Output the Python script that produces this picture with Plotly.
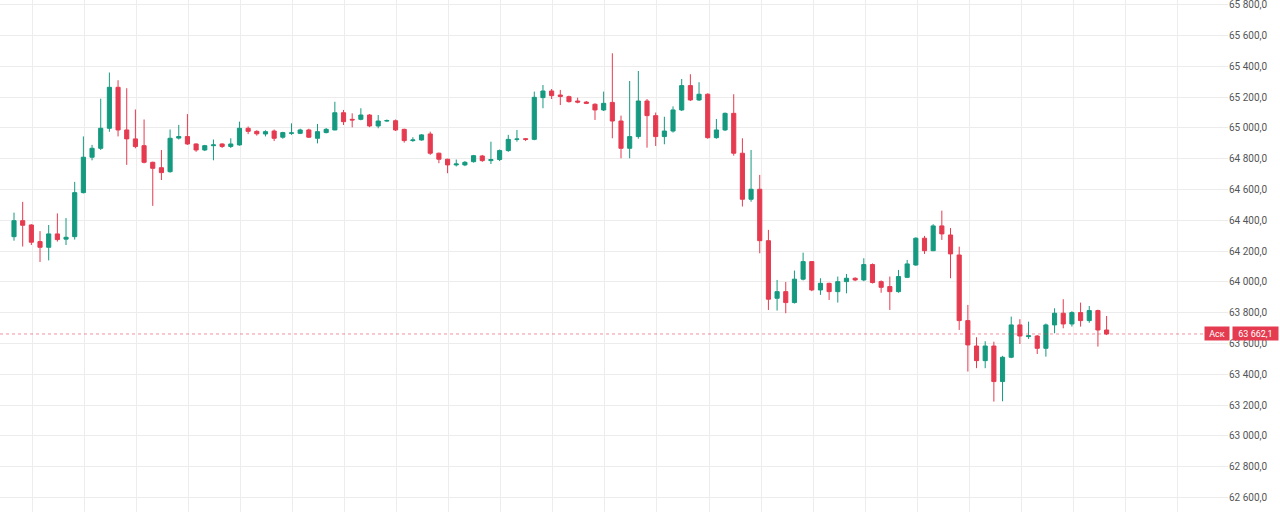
import plotly.graph_objects as go

opens = [64294, 64398, 64370, 64262, 64225, 64312, 64278, 64294, 64580, 64810,
         64868, 64998, 65264, 64987, 64929, 64885, 64777, 64742, 64716, 64934,
         64944, 64896, 64857, 64885, 64896, 64880, 64890, 64998, 64978, 64961,
         64980, 64940, 64965, 64965, 64987, 64933, 64970, 64987, 65099, 65056,
         65056, 65084, 65013, 65045, 65047, 64991, 64918, 64922, 64961, 64836,
         64797, 64760, 64760, 64781, 64818, 64788, 64795, 64853, 64926, 64930,
         64926, 65197, 65240, 65214, 65203, 65175, 65168, 65154, 65117, 65166,
         65045, 64868, 64944, 65175, 65080, 64944, 64980, 65117, 65275, 65182,
         65219, 64937, 64987, 65095, 64836, 64537, 64602, 64268, 63894, 63937,
         63866, 64018, 64132, 63948, 63991, 63937, 64002, 64024, 64013, 64113,
         64002, 63970, 63937, 64030, 64110, 64284, 64203, 64364, 64305, 64175,
         63749, 63584, 63489, 63584, 63353, 63511, 63721, 63645, 63649, 63569,
         63721, 63797, 63727, 63801, 63749, 63814, 63688]
highs = [64450, 64520, 64375, 64330, 64370, 64445, 64415, 64650, 64945, 64890,
         65190, 65360, 65310, 65258, 65120, 65055, 64781, 64857, 64990, 65020,
         65090, 64900, 64890, 64925, 64900, 64933, 65041, 65010, 64985, 64985,
         64990, 64975, 65030, 64995, 64995, 65026, 65000, 65170, 65117, 65095,
         65128, 65090, 65084, 65055, 65055, 64995, 64940, 64960, 64976, 64840,
         64800, 64795, 64785, 64825, 64825, 64911, 64860, 64955, 64987, 64935,
         65236, 65279, 65253, 65247, 65210, 65197, 65175, 65160, 65236, 65485,
         65080, 65305, 65370, 65188, 65100, 65073, 65140, 65318, 65349, 65297,
         65225, 65058, 65100, 65219, 64933, 64857, 64695, 64338, 64013, 64000,
         64074, 64190, 64135, 64024, 63995, 64035, 64052, 64030, 64154, 64120,
         64010, 64035, 64078, 64143, 64290, 64299, 64375, 64463, 64350, 64229,
         63851, 63641, 63615, 63612, 63520, 63775, 63758, 63742, 63655, 63730,
         63829, 63888, 63810, 63866, 63844, 63820, 63779]
lows = [64268, 64230, 64240, 64130, 64140, 64262, 64240, 64275, 64575, 64790,
        64857, 64975, 64945, 64760, 64868, 64770, 64494, 64662, 64710, 64925,
        64890, 64845, 64850, 64790, 64870, 64870, 64885, 64960, 64950, 64945,
        64915, 64930, 64955, 64960, 64935, 64900, 64965, 64985, 65019, 65004,
        65050, 65005, 64998, 65040, 64980, 64905, 64910, 64918, 64825, 64771,
        64706, 64750, 64752, 64775, 64780, 64766, 64785, 64845, 64911, 64915,
        64920, 65128, 65188, 65149, 65165, 65160, 65155, 65052, 65110, 64933,
        64803, 64803, 64930, 64872, 64883, 64894, 64970, 65110, 65175, 65175,
        64930, 64930, 64980, 64820, 64490, 64521, 64186, 63818, 63814, 63797,
        63860, 64010, 63940, 63916, 63883, 63866, 63926, 64005, 64005, 63990,
        63930, 63818, 63930, 64025, 64105, 64182, 64200, 64273, 64024, 63688,
        63418, 63440, 63440, 63223, 63225, 63505, 63597, 63630, 63532, 63515,
        63667, 63699, 63710, 63710, 63735, 63580, 63655]
closes = [64398, 64368, 64258, 64225, 64312, 64275, 64290, 64580, 64810, 64868,
          64998, 65264, 64987, 64929, 64879, 64777, 64738, 64710, 64933, 64944,
          64896, 64857, 64885, 64890, 64880, 64896, 64998, 64978, 64962, 64976,
          64933, 64970, 64968, 64987, 64940, 64976, 64991, 65099, 65041, 65052,
          65084, 65013, 65045, 65048, 64987, 64918, 64922, 64955, 64836, 64797,
          64760, 64766, 64777, 64820, 64788, 64795, 64853, 64926, 64928, 64926,
          65199, 65240, 65210, 65205, 65171, 65168, 65160, 65117, 65160, 65045,
          64868, 64944, 65175, 65080, 64944, 64980, 65117, 65275, 65182, 65219,
          64937, 64987, 65095, 64836, 64537, 64602, 64268, 63888, 63937, 63866,
          64018, 64132, 63948, 63991, 63937, 64002, 64024, 64013, 64113, 63996,
          63965, 63937, 64035, 64117, 64284, 64203, 64364, 64312, 64182, 63749,
          63591, 63489, 63584, 63353, 63511, 63721, 63649, 63650, 63569, 63721,
          63797, 63727, 63801, 63749, 63814, 63688, 63662.1]

bar_index = list(range(len(opens)))

tick_values = [62600, 62800, 63000, 63200, 63400, 63600, 63800, 64000, 64200,
               64400, 64600, 64800, 65000, 65200, 65400, 65600, 65800]
tick_labels = ["62 600,0", "62 800,0", "63 000,0", "63 200,0", "63 400,0",
               "63 600,0", "63 800,0", "64 000,0", "64 200,0", "64 400,0",
               "64 600,0", "64 800,0", "65 000,0", "65 200,0", "65 400,0",
               "65 600,0", "65 800,0"]

ask_price = 63662.1
ask_name = "Аск"
ask_text = "63 662,1"

GREEN = "#159a80"
RED = "#e53b50"

fig = go.Figure()
fig.add_trace(go.Candlestick(
    x=bar_index, open=opens, high=highs, low=lows, close=closes,
    increasing=dict(line=dict(color=GREEN, width=1), fillcolor=GREEN),
    decreasing=dict(line=dict(color=RED, width=1), fillcolor=RED),
    whiskerwidth=0, showlegend=False, hoverinfo="skip",
))

fig.add_shape(type="line", xref="paper", yref="y", x0=0, x1=1,
              y0=ask_price, y1=ask_price,
              line=dict(color="rgba(229,59,80,0.55)", width=1, dash="dot"))

fig.add_annotation(xref="paper", yref="y", x=1230 / 1228, y=ask_price,
                   xanchor="right", yanchor="middle", text=ask_name,
                   showarrow=False, bgcolor=RED, width=22, height=11,
                   borderpad=1, font=dict(color="white", size=9, family="Roboto"))
fig.add_annotation(xref="paper", yref="y", x=1232 / 1228, y=ask_price,
                   xanchor="left", yanchor="middle", text=ask_text,
                   showarrow=False, bgcolor=RED, width=43, height=11,
                   borderpad=1, font=dict(color="white", size=9, family="Roboto"))

fig.update_layout(
    width=1280, height=512,
    margin=dict(l=0, r=52, t=0, b=0),
    paper_bgcolor="white", plot_bgcolor="white",
    boxgap=0.32,
    xaxis=dict(range=[-1.615, 140.0], rangeslider=dict(visible=False),
               showticklabels=False, showgrid=True, gridcolor="#ededed",
               gridwidth=1, tick0=2.15, dtick=6, zeroline=False, showline=False,
               fixedrange=True),
    yaxis=dict(range=[62506, 65831], side="right", tickmode="array",
               tickvals=tick_values, ticktext=tick_labels,
               showgrid=True, gridcolor="#ececec", gridwidth=1,
               zeroline=False, showline=False, ticks="",
               ticklabeloverflow="allow",
               tickfont=dict(size=10, color="#555555", family="Roboto"),
               fixedrange=True),
)

fig.write_html("out.html",
               config={"displayModeBar": False},
               post_script="document.body.style.margin='0';document.body.style.overflow='hidden';")
